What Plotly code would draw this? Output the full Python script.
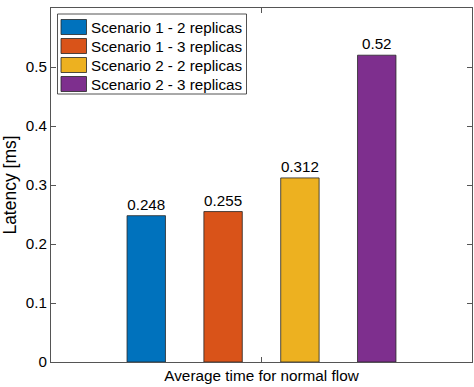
import plotly.graph_objects as go

categories = ["Average time for normal flow"]
series_names = ["Scenario 1 - 2 replicas", "Scenario 1 - 3 replicas",
                "Scenario 2 - 2 replicas", "Scenario 2 - 3 replicas"]
series_values = [0.248, 0.255, 0.312, 0.52]
series_labels = ["0.248", "0.255", "0.312", "0.52"]
colors = ["#0072BD", "#D95319", "#EDB120", "#7E2F8E"]
y_ticks = [0, 0.1, 0.2, 0.3, 0.4, 0.5, 0.6]
y_ticklabels = ["0", "0.1", "0.2", "0.3", "0.4", "0.5", "0.6"]

W, H = 474, 387
L, R, T, B = 51, 2, 8, 25
PW, PH = W - L - R, H - T - B
FONT = "Liberation Sans, Arial, Helvetica, sans-serif"
FS = 15.2

fig = go.Figure()
for name, val, lab, col in zip(series_names, series_values, series_labels, colors):
    fig.add_trace(go.Bar(
        x=categories, y=[val], name=name,
        marker=dict(color=col, line=dict(color="#262626", width=0.8)),
        text=[lab], textposition="outside", cliponaxis=False,
        textfont=dict(color="black", size=FS, family=FONT),
        showlegend=False,
    ))

def px_x(px):
    return (px - L) / PW

def px_y(py):
    return (H - B - py) / PH

shapes = []
annotations = []
# legend box
shapes.append(dict(type="rect", xref="paper", yref="paper",
                   x0=px_x(57.5), x1=px_x(246.5), y0=px_y(94), y1=px_y(14),
                   line=dict(color="#262626", width=0.8), fillcolor="white", layer="above"))
row_step = 19
for i, (name, col) in enumerate(zip(series_names, colors)):
    cy = 27 + i * row_step
    shapes.append(dict(type="rect", xref="paper", yref="paper",
                       x0=px_x(61), x1=px_x(86.5), y0=px_y(cy + 7.5), y1=px_y(cy - 7.5),
                       line=dict(color="#262626", width=0.8), fillcolor=col, layer="above"))
    annotations.append(dict(xref="paper", yref="paper", x=px_x(88.5), y=px_y(cy),
                            xanchor="left", yanchor="middle", text=name, showarrow=False,
                            font=dict(size=FS, color="black", family=FONT)))

fig.update_layout(
    width=W, height=H,
    margin=dict(l=L, r=R, t=T, b=B),
    paper_bgcolor="white", plot_bgcolor="white",
    barmode="group", bargap=0.27, bargroupgap=0.5,
    font=dict(family=FONT, size=FS, color="#262626"),
    shapes=shapes, annotations=annotations,
)
fig.update_xaxes(
    showline=True, linecolor="#555555", linewidth=1, mirror="ticks",
    ticks="inside", ticklen=5, tickcolor="#555555",
    showgrid=False, range=[-0.5, 0.5],
    tickfont=dict(size=15.3, color="black"),
)
fig.update_yaxes(
    range=[0, 0.6], tickvals=y_ticks, ticktext=y_ticklabels,
    showline=True, linecolor="#555555", linewidth=1, mirror="ticks",
    ticks="inside", ticklen=5, tickcolor="#555555",
    showgrid=False, zeroline=False,
    tickfont=dict(size=FS, color="black"),
    title=dict(text="Latency [ms]", font=dict(size=17.5, color="black"), standoff=5),
)

fig.write_html("out.html", config={"displayModeBar": False},
               post_script="document.body.style.margin='0px';document.body.style.overflow='hidden';")
